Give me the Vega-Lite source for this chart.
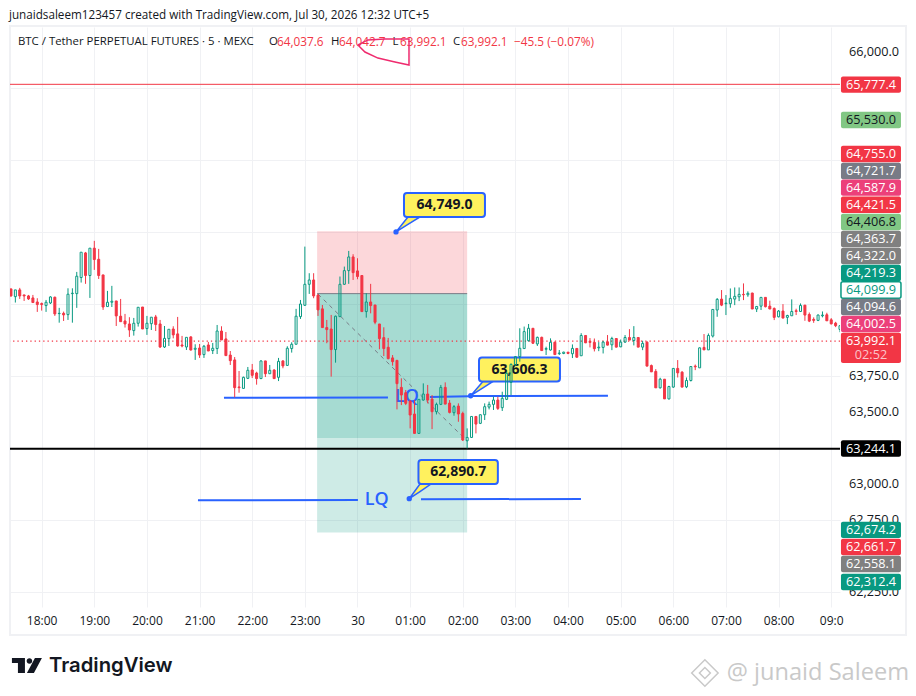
{"$schema":"https://vega.github.io/schema/vega-lite/v6.json","width":830,"height":580,"autosize":"none","padding":{"left":10,"top":27,"right":76,"bottom":89},"background":"#ffffff",
"config":{"view":{"stroke":null},"scale":{"continuousPadding":0},"axis":{"grid":true,"gridColor":"#f0f1f4","gridWidth":1,"domain":false,"ticks":false,"title":null,"labelFont":"Open Sans","labelFontSize":12,"labelColor":"#131722","labelBound":false,"labelFlush":false},"text":{"font":"Open Sans"}},
"datasets":{
"frame":[{"t1":"2026-07-29T17:23:54","t2":"2026-07-30T10:25:12","p1":66183,"p2":61948}],
"zonesStop":[{"t1":"2026-07-29T23:14","t2":"2026-07-30T02:05","p1":64755,"p2":64322}],
"zonesTarget":[{"t1":"2026-07-29T23:14","t2":"2026-07-30T02:05","p1":64322,"p2":63319},{"t1":"2026-07-29T23:14","t2":"2026-07-30T02:05","p1":64322,"p2":62661.7}],
"levels":[{"kind":"alert","price":65777.4},{"kind":"support","price":63244.1},{"kind":"last","price":63992.1}],
"priceLabels":[{"label":"66,000.0","p":66000,"t":"2026-07-30T09:20:12"},{"label":"63,750.0","p":63750,"t":"2026-07-30T09:20:12"},{"label":"63,500.0","p":63500,"t":"2026-07-30T09:20:12"},{"label":"63,000.0","p":63000,"t":"2026-07-30T09:20:12"},{"label":"62,750.0","p":62750,"t":"2026-07-30T09:20:12"},{"label":"62,250.0","p":62250,"t":"2026-07-30T09:20:12"}],
"blue":[{"id":"a1","t":"2026-07-29T21:27:48","p":63598},{"id":"a1","t":"2026-07-30T00:34:44","p":63600},{"id":"a2","t":"2026-07-30T01:22:36","p":63604},{"id":"a2","t":"2026-07-30T02:07:06","p":63609},{"id":"a3","t":"2026-07-30T02:11:36","p":63610},{"id":"a3","t":"2026-07-30T04:45:30","p":63612},{"id":"b1","t":"2026-07-29T20:58:10","p":62885},{"id":"b1","t":"2026-07-30T00:00:30","p":62887},{"id":"b2","t":"2026-07-30T01:12:24","p":62892},{"id":"b2","t":"2026-07-30T04:14:42","p":62894}],
"dash":[{"t":"2026-07-29T23:15","p":64319},{"t":"2026-07-30T02:05","p":63297}],
"entry":[{"t1":"2026-07-29T23:14","t2":"2026-07-30T02:05","p":64322}],
"lq":[{"label":"LQ","t":"2026-07-30T00:21:50","p":62887},{"label":"LQ","t":"2026-07-30T00:56:24","p":63604}],
"wedges":[{"id":"w1","t":"2026-07-30T00:43:54","p1":64751,"p2":64751},{"id":"w1","t":"2026-07-30T00:57:30","p1":64855,"p2":64803},{"id":"w1","t":"2026-07-30T01:11:12","p1":64855,"p2":64855},{"id":"w2","t":"2026-07-30T02:09:00","p1":63612,"p2":63612},{"id":"w2","t":"2026-07-30T02:23:00","p1":63711,"p2":63667},{"id":"w2","t":"2026-07-30T02:34:24","p1":63711,"p2":63711},{"id":"w3","t":"2026-07-30T00:59:00","p1":62896,"p2":62896},{"id":"w3","t":"2026-07-30T01:11:12","p1":62998,"p2":62946},{"id":"w3","t":"2026-07-30T01:23:42","p1":62998,"p2":62998}],
"boxes":[{"label":"64,749.0","t1":"2026-07-30T00:53:00","t2":"2026-07-30T02:25:18","tm":"2026-07-30T01:39:09","p1":65022,"p2":64855,"pm":64938},{"label":"63,606.3","t1":"2026-07-30T02:18:30","t2":"2026-07-30T03:50:48","tm":"2026-07-30T03:04:39","p1":63878,"p2":63711,"pm":63794},{"label":"62,890.7","t1":"2026-07-30T01:09:30","t2":"2026-07-30T02:40:00","tm":"2026-07-30T01:54:45","p1":63165,"p2":62998,"pm":63081}],
"markers":[{"t":"2026-07-30T00:43:54","p":64751},{"t":"2026-07-30T02:09:00","p":63612},{"t":"2026-07-30T00:59:00","p":62896}],
"scribble":[{"n":1,"t":"2026-07-30T00:00:30","p":66051},{"n":2,"t":"2026-07-30T00:11:54","p":66086},{"n":3,"t":"2026-07-30T00:31:18","p":66092},{"n":4,"t":"2026-07-30T00:58:42","p":66092},{"n":5,"t":"2026-07-30T00:58:42","p":65912},{"n":6,"t":"2026-07-30T00:42:42","p":65933},{"n":7,"t":"2026-07-30T00:23:18","p":65960},{"n":8,"t":"2026-07-30T00:08:30","p":66002},{"n":9,"t":"2026-07-30T00:00:30","p":66051}],
"tags":[
{"label":"65,777.4","kind":"sell","at":65775,"p1":65832,"p2":65718,"t1":"2026-07-30T09:11:06","t2":"2026-07-30T10:19:30","tm":"2026-07-30T09:45:18"},{"label":"65,530.0","kind":"lime","at":65529,"p1":65586,"p2":65472,"t1":"2026-07-30T09:11:06","t2":"2026-07-30T10:19:30","tm":"2026-07-30T09:45:18"},{"label":"64,755.0","kind":"sell","at":65293,"p1":65350,"p2":65236,"t1":"2026-07-30T09:11:06","t2":"2026-07-30T10:19:30","tm":"2026-07-30T09:45:18"},{"label":"64,721.7","kind":"slate","at":65175,"p1":65232,"p2":65118,"t1":"2026-07-30T09:11:06","t2":"2026-07-30T10:19:30","tm":"2026-07-30T09:45:18"},{"label":"64,587.9","kind":"pink","at":65059,"p1":65116,"p2":65002,"t1":"2026-07-30T09:11:06","t2":"2026-07-30T10:19:30","tm":"2026-07-30T09:45:18"},{"label":"64,421.5","kind":"sell","at":64940,"p1":64997,"p2":64883,"t1":"2026-07-30T09:11:06","t2":"2026-07-30T10:19:30","tm":"2026-07-30T09:45:18"},{"label":"64,406.8","kind":"lime","at":64820,"p1":64877,"p2":64763,"t1":"2026-07-30T09:11:06","t2":"2026-07-30T10:19:30","tm":"2026-07-30T09:45:18"},{"label":"64,363.7","kind":"mid","at":64702,"p1":64759,"p2":64645,"t1":"2026-07-30T09:11:06","t2":"2026-07-30T10:19:30","tm":"2026-07-30T09:45:18"},{"label":"64,322.0","kind":"mid","at":64584,"p1":64641,"p2":64527,"t1":"2026-07-30T09:11:06","t2":"2026-07-30T10:19:30","tm":"2026-07-30T09:45:18"},{"label":"64,219.3","kind":"buy","at":64465,"p1":64522,"p2":64408,"t1":"2026-07-30T09:11:06","t2":"2026-07-30T10:19:30","tm":"2026-07-30T09:45:18"},{"label":"64,099.9","kind":"close","at":64347,"p1":64404,"p2":64290,"t1":"2026-07-30T09:11:06","t2":"2026-07-30T10:19:30","tm":"2026-07-30T09:45:18"},{"label":"64,094.6","kind":"slate","at":64229,"p1":64286,"p2":64172,"t1":"2026-07-30T09:11:06","t2":"2026-07-30T10:19:30","tm":"2026-07-30T09:45:18"},{"label":"64,002.5","kind":"pink","at":64111,"p1":64168,"p2":64054,"t1":"2026-07-30T09:11:06","t2":"2026-07-30T10:19:30","tm":"2026-07-30T09:45:18"},{"label":"63,992.1","kind":"sell","at":63993,"p1":64050,"p2":63936,"t1":"2026-07-30T09:11:06","t2":"2026-07-30T10:19:30","tm":"2026-07-30T09:45:18"},{"label":"63,244.1","kind":"black","at":63245,"p1":63302,"p2":63188,"t1":"2026-07-30T09:11:06","t2":"2026-07-30T10:19:30","tm":"2026-07-30T09:45:18"},{"label":"62,674.2","kind":"buy","at":62679,"p1":62736,"p2":62622,"t1":"2026-07-30T09:11:06","t2":"2026-07-30T10:19:30","tm":"2026-07-30T09:45:18"},{"label":"62,661.7","kind":"sell","at":62560,"p1":62617,"p2":62503,"t1":"2026-07-30T09:11:06","t2":"2026-07-30T10:19:30","tm":"2026-07-30T09:45:18"},{"label":"62,558.1","kind":"mid","at":62442,"p1":62499,"p2":62385,"t1":"2026-07-30T09:11:06","t2":"2026-07-30T10:19:30","tm":"2026-07-30T09:45:18"},{"label":"62,312.4","kind":"buy","at":62317,"p1":62374,"p2":62260,"t1":"2026-07-30T09:11:06","t2":"2026-07-30T10:19:30","tm":"2026-07-30T09:45:18"}],
"tagBig":[{"label":"02:52","p1":64048,"p2":63840,"at":63895,"t1":"2026-07-30T09:11:06","t2":"2026-07-30T10:19:30","tm":"2026-07-30T09:45:18"}],
"notes":[{"label":"junaidsaleem123457 created with TradingView.com, Jul 30, 2026 12:32 UTC+5","t":"2026-07-29T17:22:42","p":66259}],
"legendTitle":[{"label":"BTC / Tether PERPETUAL FUTURES · 5 · MEXC","t":"2026-07-29T17:33:00","p":66072},{"label":"O","t":"2026-07-29T22:19:06","p":66072},{"label":"H","t":"2026-07-29T23:29:48","p":66072},{"label":"L","t":"2026-07-30T00:39:54","p":66072},{"label":"C","t":"2026-07-30T01:48:48","p":66072}],
"ohlc":[{"label":"64,037.6","t":"2026-07-29T22:28:12","p":66072},{"label":"64,042.7","t":"2026-07-29T23:38:54","p":66072},{"label":"63,992.1","t":"2026-07-30T00:48:24","p":66072},{"label":"63,992.1","t":"2026-07-30T01:57:54","p":66072},{"label":"−45.5 (−0.07%)","t":"2026-07-30T02:58:24","p":66072}],
"logo":[{"label":"TradingView","t":"2026-07-29T18:08:18","tIcon":"2026-07-29T17:43:12","p":61733}],
"wm":[{"label":"@ junaid Saleem","t":"2026-07-30T07:01:00","tIcon":"2026-07-30T06:36:00","p":61684}],
"candles":[
{"t":"2026-07-29T17:25","o":64355,"h":64355,"l":64301,"c":64306},
{"t":"2026-07-29T17:30","o":64301,"h":64348,"l":64260,"c":64348},
{"t":"2026-07-29T17:35","o":64348,"h":64362,"l":64285,"c":64306},
{"t":"2026-07-29T17:40","o":64313,"h":64313,"l":64271,"c":64306},
{"t":"2026-07-29T17:45","o":64306,"h":64313,"l":64278,"c":64285},
{"t":"2026-07-29T17:50","o":64292,"h":64313,"l":64260,"c":64260},
{"t":"2026-07-29T17:55","o":64264,"h":64290,"l":64195,"c":64246},
{"t":"2026-07-29T18:00","o":64253,"h":64260,"l":64204,"c":64246},
{"t":"2026-07-29T18:05","o":64239,"h":64278,"l":64195,"c":64262},
{"t":"2026-07-29T18:10","o":64257,"h":64304,"l":64250,"c":64299},
{"t":"2026-07-29T18:15","o":64297,"h":64301,"l":64167,"c":64181},
{"t":"2026-07-29T18:20","o":64183,"h":64223,"l":64120,"c":64185},
{"t":"2026-07-29T18:25","o":64185,"h":64197,"l":64132,"c":64174},
{"t":"2026-07-29T18:30","o":64176,"h":64359,"l":64139,"c":64318},
{"t":"2026-07-29T18:35","o":64322,"h":64359,"l":64120,"c":64325},
{"t":"2026-07-29T18:40","o":64322,"h":64473,"l":64223,"c":64443},
{"t":"2026-07-29T18:45","o":64434,"h":64610,"l":64399,"c":64610},
{"t":"2026-07-29T18:50","o":64605,"h":64612,"l":64390,"c":64448},
{"t":"2026-07-29T18:55","o":64448,"h":64638,"l":64292,"c":64638},
{"t":"2026-07-29T19:00","o":64638,"h":64689,"l":64487,"c":64559},
{"t":"2026-07-29T19:05","o":64561,"h":64633,"l":64424,"c":64448},
{"t":"2026-07-29T19:10","o":64452,"h":64452,"l":64209,"c":64229},
{"t":"2026-07-29T19:15","o":64232,"h":64341,"l":64232,"c":64262},
{"t":"2026-07-29T19:20","o":64262,"h":64376,"l":64229,"c":64269},
{"t":"2026-07-29T19:25","o":64271,"h":64271,"l":64097,"c":64167},
{"t":"2026-07-29T19:30","o":64165,"h":64285,"l":64127,"c":64127},
{"t":"2026-07-29T19:35","o":64132,"h":64181,"l":64086,"c":64111},
{"t":"2026-07-29T19:40","o":64111,"h":64158,"l":64021,"c":64069},
{"t":"2026-07-29T19:45","o":64065,"h":64153,"l":64030,"c":64116},
{"t":"2026-07-29T19:50","o":64116,"h":64227,"l":64093,"c":64227},
{"t":"2026-07-29T19:55","o":64229,"h":64229,"l":64076,"c":64076},
{"t":"2026-07-29T20:00","o":64079,"h":64167,"l":64035,"c":64116},
{"t":"2026-07-29T20:05","o":64113,"h":64158,"l":64069,"c":64158},
{"t":"2026-07-29T20:10","o":64160,"h":64174,"l":64062,"c":64107},
{"t":"2026-07-29T20:15","o":64111,"h":64139,"l":63944,"c":63951},
{"t":"2026-07-29T20:20","o":63951,"h":64097,"l":63944,"c":64011},
{"t":"2026-07-29T20:25","o":64009,"h":64074,"l":63958,"c":64074},
{"t":"2026-07-29T20:30","o":64076,"h":64095,"l":64011,"c":64035},
{"t":"2026-07-29T20:35","o":64042,"h":64160,"l":63953,"c":63958},
{"t":"2026-07-29T20:40","o":63965,"h":64028,"l":63949,"c":63958},
{"t":"2026-07-29T20:45","o":63951,"h":64018,"l":63930,"c":64018},
{"t":"2026-07-29T20:50","o":64021,"h":64025,"l":63926,"c":63930},
{"t":"2026-07-29T20:55","o":63935,"h":63970,"l":63861,"c":63942},
{"t":"2026-07-29T21:00","o":63944,"h":63972,"l":63875,"c":63895},
{"t":"2026-07-29T21:05","o":63898,"h":63965,"l":63875,"c":63956},
{"t":"2026-07-29T21:10","o":63965,"h":63986,"l":63923,"c":63923},
{"t":"2026-07-29T21:15","o":63926,"h":63979,"l":63902,"c":63942},
{"t":"2026-07-29T21:20","o":63940,"h":64104,"l":63902,"c":64062},
{"t":"2026-07-29T21:25","o":64062,"h":64095,"l":64000,"c":64000},
{"t":"2026-07-29T21:30","o":64007,"h":64055,"l":63891,"c":63891},
{"t":"2026-07-29T21:35","o":63895,"h":63923,"l":63826,"c":63856},
{"t":"2026-07-29T21:40","o":63861,"h":63881,"l":63601,"c":63668},
{"t":"2026-07-29T21:45","o":63673,"h":63784,"l":63633,"c":63668},
{"t":"2026-07-29T21:50","o":63663,"h":63745,"l":63663,"c":63740},
{"t":"2026-07-29T21:55","o":63733,"h":63812,"l":63728,"c":63789},
{"t":"2026-07-29T22:00","o":63791,"h":63833,"l":63735,"c":63754},
{"t":"2026-07-29T22:05","o":63770,"h":63779,"l":63689,"c":63731},
{"t":"2026-07-29T22:10","o":63731,"h":63858,"l":63731,"c":63854},
{"t":"2026-07-29T22:15","o":63854,"h":63854,"l":63742,"c":63765},
{"t":"2026-07-29T22:20","o":63765,"h":63826,"l":63763,"c":63789},
{"t":"2026-07-29T22:25","o":63791,"h":63796,"l":63731,"c":63731},
{"t":"2026-07-29T22:30","o":63740,"h":63875,"l":63714,"c":63851},
{"t":"2026-07-29T22:35","o":63854,"h":63858,"l":63803,"c":63819},
{"t":"2026-07-29T22:40","o":63823,"h":63956,"l":63819,"c":63942},
{"t":"2026-07-29T22:45","o":63940,"h":63984,"l":63912,"c":63970},
{"t":"2026-07-29T22:50","o":63970,"h":64216,"l":63970,"c":64165},
{"t":"2026-07-29T22:55","o":64162,"h":64278,"l":64146,"c":64250},
{"t":"2026-07-29T23:00","o":64241,"h":64649,"l":64236,"c":64387},
{"t":"2026-07-29T23:05","o":64387,"h":64464,"l":64320,"c":64417},
{"t":"2026-07-29T23:10","o":64417,"h":64464,"l":64290,"c":64306},
{"t":"2026-07-29T23:15","o":64311,"h":64320,"l":64167,"c":64209},
{"t":"2026-07-29T23:20","o":64216,"h":64243,"l":64086,"c":64086},
{"t":"2026-07-29T23:25","o":64086,"h":64139,"l":63977,"c":64072},
{"t":"2026-07-29T23:30","o":64076,"h":64174,"l":63745,"c":63933},
{"t":"2026-07-29T23:35","o":63933,"h":64169,"l":63842,"c":64165},
{"t":"2026-07-29T23:40","o":64162,"h":64441,"l":64162,"c":64387},
{"t":"2026-07-29T23:45","o":64387,"h":64510,"l":64383,"c":64482},
{"t":"2026-07-29T23:50","o":64482,"h":64619,"l":64390,"c":64577},
{"t":"2026-07-29T23:55","o":64577,"h":64596,"l":64417,"c":64468},
{"t":"2026-07-30T00:00","o":64480,"h":64568,"l":64422,"c":64441},
{"t":"2026-07-30T00:05","o":64448,"h":64448,"l":64197,"c":64197},
{"t":"2026-07-30T00:10","o":64197,"h":64325,"l":64155,"c":64264},
{"t":"2026-07-30T00:15","o":64264,"h":64390,"l":64185,"c":64239},
{"t":"2026-07-30T00:20","o":64243,"h":64243,"l":64109,"c":64123},
{"t":"2026-07-30T00:25","o":64111,"h":64111,"l":63935,"c":64009},
{"t":"2026-07-30T00:30","o":64016,"h":64088,"l":63888,"c":63940},
{"t":"2026-07-30T00:35","o":63949,"h":64014,"l":63865,"c":63870},
{"t":"2026-07-30T00:40","o":63875,"h":63895,"l":63821,"c":63849},
{"t":"2026-07-30T00:45","o":63858,"h":63861,"l":63517,"c":63696},
{"t":"2026-07-30T00:50","o":63670,"h":63733,"l":63547,"c":63617},
{"t":"2026-07-30T00:55","o":63633,"h":63652,"l":63547,"c":63559},
{"t":"2026-07-30T01:00","o":63575,"h":63582,"l":63385,"c":63478},
{"t":"2026-07-30T01:05","o":63485,"h":63582,"l":63350,"c":63350},
{"t":"2026-07-30T01:10","o":63350,"h":63589,"l":63350,"c":63587},
{"t":"2026-07-30T01:15","o":63582,"h":63698,"l":63578,"c":63624},
{"t":"2026-07-30T01:20","o":63624,"h":63687,"l":63559,"c":63582},
{"t":"2026-07-30T01:25","o":63589,"h":63617,"l":63380,"c":63501},
{"t":"2026-07-30T01:30","o":63501,"h":63564,"l":63482,"c":63552},
{"t":"2026-07-30T01:35","o":63552,"h":63687,"l":63547,"c":63670},
{"t":"2026-07-30T01:40","o":63670,"h":63705,"l":63554,"c":63554},
{"t":"2026-07-30T01:45","o":63561,"h":63582,"l":63489,"c":63496},
{"t":"2026-07-30T01:50","o":63494,"h":63547,"l":63473,"c":63536},
{"t":"2026-07-30T01:55","o":63540,"h":63559,"l":63431,"c":63485},
{"t":"2026-07-30T02:00","o":63489,"h":63501,"l":63297,"c":63304},
{"t":"2026-07-30T02:05","o":63299,"h":63385,"l":63246,"c":63322},
{"t":"2026-07-30T02:10","o":63322,"h":63468,"l":63322,"c":63468},
{"t":"2026-07-30T02:15","o":63468,"h":63471,"l":63350,"c":63415},
{"t":"2026-07-30T02:20","o":63420,"h":63482,"l":63415,"c":63480},
{"t":"2026-07-30T02:25","o":63480,"h":63559,"l":63443,"c":63536},
{"t":"2026-07-30T02:30","o":63533,"h":63571,"l":63517,"c":63552},
{"t":"2026-07-30T02:35","o":63552,"h":63605,"l":63513,"c":63582},
{"t":"2026-07-30T02:40","o":63582,"h":63605,"l":63513,"c":63524},
{"t":"2026-07-30T02:45","o":63529,"h":63640,"l":63506,"c":63594},
{"t":"2026-07-30T02:50","o":63587,"h":63779,"l":63582,"c":63768},
{"t":"2026-07-30T02:55","o":63705,"h":63837,"l":63617,"c":63830},
{"t":"2026-07-30T03:00","o":63826,"h":63886,"l":63821,"c":63884},
{"t":"2026-07-30T03:05","o":63884,"h":64081,"l":63849,"c":63942},
{"t":"2026-07-30T03:10","o":63940,"h":64093,"l":63940,"c":64058},
{"t":"2026-07-30T03:15","o":63995,"h":64111,"l":63988,"c":64081},
{"t":"2026-07-30T03:20","o":64081,"h":64081,"l":63972,"c":63977},
{"t":"2026-07-30T03:25","o":63972,"h":64023,"l":63958,"c":64018},
{"t":"2026-07-30T03:30","o":64018,"h":64023,"l":63926,"c":63926},
{"t":"2026-07-30T03:35","o":63935,"h":63953,"l":63895,"c":63940},
{"t":"2026-07-30T03:40","o":63930,"h":64011,"l":63926,"c":63984},
{"t":"2026-07-30T03:45","o":63984,"h":63988,"l":63898,"c":63898},
{"t":"2026-07-30T03:50","o":63905,"h":63930,"l":63895,"c":63909},
{"t":"2026-07-30T03:55","o":63906,"h":63918,"l":63901,"c":63915},
{"t":"2026-07-30T04:00","o":63915,"h":63915,"l":63901,"c":63906},
{"t":"2026-07-30T04:05","o":63904,"h":63969,"l":63874,"c":63941},
{"t":"2026-07-30T04:10","o":63941,"h":63941,"l":63876,"c":63880},
{"t":"2026-07-30T04:15","o":63890,"h":64047,"l":63890,"c":64031},
{"t":"2026-07-30T04:20","o":64031,"h":64031,"l":63978,"c":63980},
{"t":"2026-07-30T04:25","o":63990,"h":64013,"l":63948,"c":63983},
{"t":"2026-07-30T04:30","o":63983,"h":64010,"l":63920,"c":63939},
{"t":"2026-07-30T04:35","o":63945,"h":63985,"l":63922,"c":63950},
{"t":"2026-07-30T04:40","o":63948,"h":63994,"l":63906,"c":63985},
{"t":"2026-07-30T04:45","o":63987,"h":64034,"l":63962,"c":63964},
{"t":"2026-07-30T04:50","o":63966,"h":64022,"l":63929,"c":64010},
{"t":"2026-07-30T04:55","o":64010,"h":64010,"l":63948,"c":63950},
{"t":"2026-07-30T05:00","o":63952,"h":64003,"l":63950,"c":63985},
{"t":"2026-07-30T05:05","o":63985,"h":64034,"l":63980,"c":64017},
{"t":"2026-07-30T05:10","o":64017,"h":64075,"l":63999,"c":63999},
{"t":"2026-07-30T05:15","o":63996,"h":64096,"l":63962,"c":64017},
{"t":"2026-07-30T05:20","o":64017,"h":64017,"l":63950,"c":63950},
{"t":"2026-07-30T05:25","o":63950,"h":63994,"l":63929,"c":63976},
{"t":"2026-07-30T05:30","o":63985,"h":63990,"l":63818,"c":63818},
{"t":"2026-07-30T05:35","o":63822,"h":63829,"l":63778,"c":63778},
{"t":"2026-07-30T05:40","o":63781,"h":63797,"l":63667,"c":63667},
{"t":"2026-07-30T05:45","o":63667,"h":63737,"l":63662,"c":63727},
{"t":"2026-07-30T05:50","o":63727,"h":63727,"l":63590,"c":63590},
{"t":"2026-07-30T05:55","o":63590,"h":63681,"l":63586,"c":63676},
{"t":"2026-07-30T06:00","o":63672,"h":63804,"l":63667,"c":63802},
{"t":"2026-07-30T06:05","o":63802,"h":63860,"l":63739,"c":63771},
{"t":"2026-07-30T06:10","o":63776,"h":63783,"l":63672,"c":63672},
{"t":"2026-07-30T06:15","o":63674,"h":63739,"l":63665,"c":63718},
{"t":"2026-07-30T06:20","o":63718,"h":63818,"l":63711,"c":63815},
{"t":"2026-07-30T06:25","o":63818,"h":63829,"l":63790,"c":63813},
{"t":"2026-07-30T06:30","o":63806,"h":63948,"l":63806,"c":63945},
{"t":"2026-07-30T06:35","o":63948,"h":64041,"l":63931,"c":63931},
{"t":"2026-07-30T06:40","o":63931,"h":64045,"l":63931,"c":64031},
{"t":"2026-07-30T06:45","o":64027,"h":64212,"l":64017,"c":64212},
{"t":"2026-07-30T06:50","o":64208,"h":64291,"l":64161,"c":64282},
{"t":"2026-07-30T06:55","o":64284,"h":64347,"l":64235,"c":64242},
{"t":"2026-07-30T07:00","o":64252,"h":64312,"l":64173,"c":64256},
{"t":"2026-07-30T07:05","o":64252,"h":64358,"l":64224,"c":64289},
{"t":"2026-07-30T07:10","o":64284,"h":64365,"l":64242,"c":64303},
{"t":"2026-07-30T07:15","o":64300,"h":64365,"l":64270,"c":64317},
{"t":"2026-07-30T07:20","o":64317,"h":64393,"l":64277,"c":64314},
{"t":"2026-07-30T07:25","o":64314,"h":64338,"l":64300,"c":64324},
{"t":"2026-07-30T07:30","o":64326,"h":64328,"l":64215,"c":64215},
{"t":"2026-07-30T07:35","o":64215,"h":64235,"l":64194,"c":64233},
{"t":"2026-07-30T07:40","o":64235,"h":64296,"l":64208,"c":64296},
{"t":"2026-07-30T07:45","o":64296,"h":64296,"l":64226,"c":64231},
{"t":"2026-07-30T07:50","o":64235,"h":64273,"l":64215,"c":64215},
{"t":"2026-07-30T07:55","o":64219,"h":64226,"l":64138,"c":64157},
{"t":"2026-07-30T08:00","o":64161,"h":64208,"l":64157,"c":64201},
{"t":"2026-07-30T08:05","o":64201,"h":64249,"l":64152,"c":64152},
{"t":"2026-07-30T08:10","o":64157,"h":64175,"l":64110,"c":64170},
{"t":"2026-07-30T08:15","o":64168,"h":64282,"l":64168,"c":64198},
{"t":"2026-07-30T08:20","o":64203,"h":64217,"l":64173,"c":64198},
{"t":"2026-07-30T08:25","o":64198,"h":64254,"l":64194,"c":64240},
{"t":"2026-07-30T08:30","o":64242,"h":64242,"l":64133,"c":64173},
{"t":"2026-07-30T08:35","o":64177,"h":64191,"l":64124,"c":64131},
{"t":"2026-07-30T08:40","o":64143,"h":64157,"l":64119,"c":64136},
{"t":"2026-07-30T08:45","o":64136,"h":64177,"l":64131,"c":64173},
{"t":"2026-07-30T08:50","o":64168,"h":64198,"l":64157,"c":64173},
{"t":"2026-07-30T08:55","o":64175,"h":64189,"l":64133,"c":64133},
{"t":"2026-07-30T09:00","o":64140,"h":64152,"l":64108,"c":64112},
{"t":"2026-07-30T09:05","o":64117,"h":64126,"l":64089,"c":64099},
{"t":"2026-07-30T09:10","o":64073,"h":64103,"l":64054,"c":64099}
]},
"layer":[
{"data":{"name":"frame"},"mark":{"type":"rect","fill":"transparent","stroke":"#f0f1f4","strokeWidth":2},
"encoding":{"x":{"field":"t1","type":"temporal","scale":{"domain":[{"year":2026,"month":7,"date":29,"hours":17,"minutes":23,"seconds":54},{"year":2026,"month":7,"date":30,"hours":9,"minutes":10}],"nice":false,"padding":0},"axis":{"orient":"bottom","labelOverlap":false,"values":[{"year":2026,"month":7,"date":29,"hours":18},{"year":2026,"month":7,"date":29,"hours":19},{"year":2026,"month":7,"date":29,"hours":20},{"year":2026,"month":7,"date":29,"hours":21},{"year":2026,"month":7,"date":29,"hours":22},{"year":2026,"month":7,"date":29,"hours":23},{"year":2026,"month":7,"date":30,"hours":0},{"year":2026,"month":7,"date":30,"hours":1},{"year":2026,"month":7,"date":30,"hours":2},{"year":2026,"month":7,"date":30,"hours":3},{"year":2026,"month":7,"date":30,"hours":4},{"year":2026,"month":7,"date":30,"hours":5},{"year":2026,"month":7,"date":30,"hours":6},{"year":2026,"month":7,"date":30,"hours":7},{"year":2026,"month":7,"date":30,"hours":8},{"year":2026,"month":7,"date":30,"hours":9}],"labelPadding":8,"labelExpr":"hours(datum.value)==0?'30':(hours(datum.value)==9?'09:0\u00a0\u00a0':timeFormat(datum.value,'%H:%M'))"}},"x2":{"field":"t2"},
"y":{"field":"p1","type":"quantitative","scale":{"domain":[62143,66176],"nice":false,"zero":false,"padding":0},"axis":{"orient":"right","labels":false,"values":[62250,62500,62750,63000,63250,63500,63750,64000,64250,64500,64750,65000,65250,65500,65750,66000]}},"y2":{"field":"p2"}}},
{"data":{"name":"priceLabels"},"mark":{"type":"text","color":"#131722","fontSize":12.7,"align":"left","baseline":"middle"},"encoding":{"x":{"field":"t","type":"temporal","title":null},"y":{"field":"p","type":"quantitative","title":null},"text":{"field":"label"}}},
{"data":{"name":"zonesStop"},"mark":{"type":"rect","fill":"#f23645","opacity":0.2},"encoding":{"x":{"field":"t1","type":"temporal","title":null},"x2":{"field":"t2"},"y":{"field":"p1","type":"quantitative","title":null},"y2":{"field":"p2"}}},
{"data":{"name":"zonesTarget"},"mark":{"type":"rect","fill":"#089981","opacity":0.2},"encoding":{"x":{"field":"t1","type":"temporal","title":null},"x2":{"field":"t2"},"y":{"field":"p1","type":"quantitative","title":null},"y2":{"field":"p2"}}},
{"data":{"name":"entry"},"mark":{"type":"rule","color":"#787b86","strokeWidth":1},"encoding":{"x":{"field":"t1","type":"temporal","title":null},"x2":{"field":"t2"},"y":{"field":"p","type":"quantitative","title":null}}},
{"data":{"name":"dash"},"mark":{"type":"line","color":"#787b86","strokeWidth":1,"strokeDash":[4,4]},"encoding":{"x":{"field":"t","type":"temporal","title":null},"y":{"field":"p","type":"quantitative","title":null}}},
{"data":{"name":"levels"},"transform":[{"filter":"datum.kind=='alert'"}],"mark":{"type":"rule","color":"#f23645","strokeWidth":1},"encoding":{"y":{"field":"price","type":"quantitative","title":null}}},
{"data":{"name":"levels"},"transform":[{"filter":"datum.kind=='support'"}],"mark":{"type":"rule","color":"#000000","strokeWidth":2},"encoding":{"y":{"field":"price","type":"quantitative","title":null}}},
{"data":{"name":"levels"},"transform":[{"filter":"datum.kind=='last'"}],"mark":{"type":"rule","color":"#f23645","strokeWidth":1.3,"strokeDash":[1.3,3]},"encoding":{"y":{"field":"price","type":"quantitative","title":null}}},
{"data":{"name":"blue"},"mark":{"type":"line","color":"#2962ff","strokeWidth":2},"encoding":{"x":{"field":"t","type":"temporal","title":null},"y":{"field":"p","type":"quantitative","title":null},"detail":{"field":"id"}}},
{"data":{"name":"lq"},"mark":{"type":"text","color":"#2962ff","fontSize":18,"fontWeight":600,"align":"center","baseline":"middle"},"encoding":{"x":{"field":"t","type":"temporal","title":null},"y":{"field":"p","type":"quantitative","title":null},"text":{"field":"label"}}},
{"data":{"name":"wedges"},"mark":{"type":"area","fill":"#fff15e","stroke":"#2962ff","strokeWidth":1.5},"encoding":{"x":{"field":"t","type":"temporal","title":null},"y":{"field":"p1","type":"quantitative","title":null},"y2":{"field":"p2"},"detail":{"field":"id"}}},
{"data":{"name":"boxes"},"mark":{"type":"rect","fill":"#fff15e","stroke":"#2962ff","strokeWidth":2,"cornerRadius":3},"encoding":{"x":{"field":"t1","type":"temporal","title":null},"x2":{"field":"t2"},"y":{"field":"p1","type":"quantitative","title":null},"y2":{"field":"p2"}}},
{"data":{"name":"boxes"},"mark":{"type":"text","color":"#131722","fontSize":14,"fontWeight":"bold","align":"center","baseline":"middle"},"encoding":{"x":{"field":"tm","type":"temporal","title":null},"y":{"field":"pm","type":"quantitative","title":null},"text":{"field":"label"}}},
{"data":{"name":"markers"},"mark":{"type":"point","filled":true,"color":"#2962ff","size":28,"opacity":1},"encoding":{"x":{"field":"t","type":"temporal","title":null},"y":{"field":"p","type":"quantitative","title":null}}},
{"data":{"name":"candles"},"transform":[{"filter":"datum.c<datum.o"}],"mark":{"type":"rule","color":"#f23645","strokeWidth":1,"clip":true},"encoding":{"x":{"field":"t","type":"temporal","title":null},"y":{"field":"h","type":"quantitative","title":null},"y2":{"field":"l"}}},
{"data":{"name":"candles"},"transform":[{"filter":"datum.c<datum.o"}],"mark":{"type":"bar","fill":"#f23645","stroke":"#f23645","strokeWidth":1,"width":2,"clip":true},"encoding":{"x":{"field":"t","type":"temporal","title":null},"y":{"field":"o","type":"quantitative","title":null},"y2":{"field":"c"}}},
{"data":{"name":"candles"},"transform":[{"filter":"datum.c>=datum.o"}],"mark":{"type":"rule","color":"#089981","strokeWidth":1,"clip":true},"encoding":{"x":{"field":"t","type":"temporal","title":null},"y":{"field":"h","type":"quantitative","title":null},"y2":{"field":"c"}}},
{"data":{"name":"candles"},"transform":[{"filter":"datum.c>=datum.o"}],"mark":{"type":"rule","color":"#089981","strokeWidth":1,"clip":true},"encoding":{"x":{"field":"t","type":"temporal","title":null},"y":{"field":"o","type":"quantitative","title":null},"y2":{"field":"l"}}},
{"data":{"name":"candles"},"transform":[{"filter":"datum.c>=datum.o"}],"mark":{"type":"bar","fill":"transparent","stroke":"#089981","strokeWidth":1,"width":2,"clip":true},"encoding":{"x":{"field":"t","type":"temporal","title":null},"y":{"field":"o","type":"quantitative","title":null},"y2":{"field":"c"}}},
{"data":{"name":"tagBig"},"mark":{"type":"rect","fill":"#f23645","cornerRadius":2},"encoding":{"x":{"field":"t1","type":"temporal","title":null},"x2":{"field":"t2"},"y":{"field":"p1","type":"quantitative","title":null},"y2":{"field":"p2"}}},
{"data":{"name":"tags"},"mark":{"type":"rect","cornerRadius":2,"strokeWidth":1.5},"encoding":{"x":{"field":"t1","type":"temporal","title":null},"x2":{"field":"t2"},"y":{"field":"p1","type":"quantitative","title":null},"y2":{"field":"p2"},"fill":{"field":"kind","type":"nominal","legend":null,"scale":{"domain":["sell","buy","lime","slate","mid","pink","black","close"],"range":["#f23645","#089981","#81c784","#787b86","#808080","#ec407a","#000000","#ffffff"]}},"stroke":{"condition":{"test":"datum.kind=='close'","value":"#089981"},"value":"transparent"}}},
{"data":{"name":"tags"},"mark":{"type":"text","fontSize":12.7,"align":"center","baseline":"middle"},"encoding":{"x":{"field":"tm","type":"temporal","title":null},"y":{"field":"at","type":"quantitative","title":null},"text":{"field":"label"},"color":{"condition":[{"test":"datum.kind=='lime'","value":"#131722"},{"test":"datum.kind=='close'","value":"#089981"}],"value":"#ffffff"}}},
{"data":{"name":"tagBig"},"mark":{"type":"text","fontSize":12.7,"align":"center","baseline":"middle","color":"#fcc5ca"},"encoding":{"x":{"field":"tm","type":"temporal","title":null},"y":{"field":"at","type":"quantitative","title":null},"text":{"field":"label"}}},
{"data":{"name":"notes"},"mark":{"type":"text","color":"#131722","fontSize":11.7,"align":"left","baseline":"middle"},"encoding":{"x":{"field":"t","type":"temporal","title":null},"y":{"field":"p","type":"quantitative","title":null},"text":{"field":"label"}}},
{"data":{"name":"legendTitle"},"mark":{"type":"text","color":"#131722","fontSize":11.4,"align":"left","baseline":"middle"},"encoding":{"x":{"field":"t","type":"temporal","title":null},"y":{"field":"p","type":"quantitative","title":null},"text":{"field":"label"}}},
{"data":{"name":"ohlc"},"mark":{"type":"text","color":"#f23645","fontSize":11.8,"align":"left","baseline":"middle"},"encoding":{"x":{"field":"t","type":"temporal","title":null},"y":{"field":"p","type":"quantitative","title":null},"text":{"field":"label"}}},
{"data":{"name":"scribble"},"mark":{"type":"line","color":"#ef2b6e","strokeWidth":1.5},"encoding":{"x":{"field":"t","type":"temporal","title":null},"y":{"field":"p","type":"quantitative","title":null},"order":{"field":"n"}}},
{"data":{"name":"logo"},"mark":{"type":"text","color":"#131722","font":"Inter","fontWeight":600,"fontSize":20.3,"align":"left","baseline":"middle"},"encoding":{"x":{"field":"t","type":"temporal","title":null},"y":{"field":"p","type":"quantitative","title":null},"text":{"field":"label"}}},
{"data":{"name":"logo"},"mark":{"type":"point","filled":true,"color":"#131722","opacity":1,"size":900,"shape":"M-1,-0.533L-0.133,-0.533L-0.133,0.467L-0.6,0.467L-0.6,-0.2L-1,-0.2ZM0.533,-0.533L1,-0.533L0.467,0.467L0,0.467ZM-0.02,-0.333A0.187,0.187 0 1 1 0.354,-0.333A0.187,0.187 0 1 1 -0.02,-0.333Z"},"encoding":{"x":{"field":"tIcon","type":"temporal","title":null},"y":{"field":"p","type":"quantitative","title":null}}},
{"data":{"name":"wm"},"mark":{"type":"text","color":"#c9c9c9","fontSize":23.6,"align":"left","baseline":"middle"},"encoding":{"x":{"field":"t","type":"temporal","title":null},"y":{"field":"p","type":"quantitative","title":null},"text":{"field":"label"}}},
{"data":{"name":"wm"},"mark":{"type":"point","shape":"diamond","filled":false,"color":"#c9c9c9","strokeWidth":1.5,"size":700,"opacity":1},"encoding":{"x":{"field":"tIcon","type":"temporal","title":null},"y":{"field":"p","type":"quantitative","title":null}}},
{"data":{"name":"wm"},"mark":{"type":"point","shape":"diamond","filled":false,"color":"#c9c9c9","strokeWidth":1.5,"size":120,"opacity":1},"encoding":{"x":{"field":"tIcon","type":"temporal","title":null},"y":{"field":"p","type":"quantitative","title":null}}}
]}
